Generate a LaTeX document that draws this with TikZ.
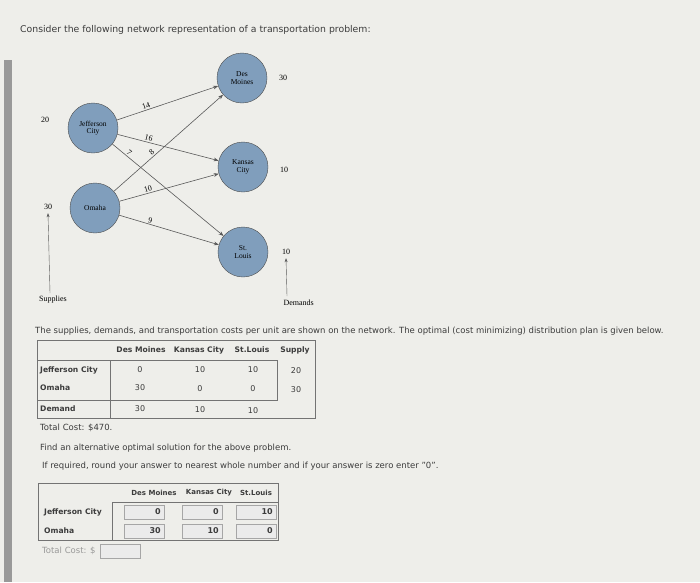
\documentclass[tikz,border=0pt]{standalone}
\usepackage{fontspec}
\setmainfont{DejaVu Sans}
\newfontfamily\serifx{Liberation Serif}
\usetikzlibrary{arrows.meta}
\definecolor{nodeblue}{RGB}{128,158,188}
\definecolor{pagebg}{RGB}{238,238,234}
\definecolor{txt}{RGB}{60,60,60}
\begin{document}
\begin{tikzpicture}[x=1pt,y=-1pt,
  city/.style={circle,draw=black!70,fill=nodeblue,minimum size=50pt,inner sep=0pt,align=center,font=\serifx\fontsize{7.5}{7.5}\selectfont},
  route/.style={draw=black!65,-{Stealth[length=5pt]},line width=0.6pt},
  cost/.style={font=\serifx\fontsize{8}{8}\selectfont,inner sep=1pt},
  amt/.style={font=\serifx\fontsize{8}{8}\selectfont},
  tx/.style={font=\fontsize{8.5}{9}\selectfont,text=txt,anchor=west,inner sep=0pt},
  th/.style={font=\bfseries\fontsize{7.6}{9}\selectfont,text=txt,inner sep=0pt},
  tv/.style={font=\fontsize{8}{9}\selectfont,text=txt,inner sep=0pt},
  frame/.style={draw=black!55,line width=0.6pt},
  inbox/.style={draw=black!35,fill=white!92!black,minimum width=40pt,minimum height=14pt,inner sep=2pt,anchor=east,font=\bfseries\fontsize{8}{9}\selectfont,text=txt,align=right,text width=34pt}]
\useasboundingbox (0,0) rectangle (700,582);
\fill[pagebg] (0,0) rectangle (700,582);
\fill[black!40] (4,60) rectangle (12,582);
\node[tx,font=\fontsize{9.3}{10}\selectfont] (title) at (20,30) {Consider the following network representation of a transportation problem:};
% network
\node[city] (jc) at (93,128) {Jefferson\\City};
\node[city] (om) at (95,208) {Omaha};
\node[city] (dm) at (242,78) {Des\\Moines};
\node[city] (kc) at (243,167) {Kansas\\City};
\node[city] (sl) at (243,252) {St.\\Louis};
\draw[route] (jc) -- node[cost,above,pos=0.3,sloped]{14} (dm);
\draw[route] (jc) -- node[cost,above,pos=0.3,sloped]{16} (kc);
\draw[route] (jc) -- node[cost,above,pos=0.13,sloped]{7} (sl);
\draw[route] (om) -- node[cost,above,pos=0.37,sloped]{8} (dm);
\draw[route] (om) -- node[cost,above,pos=0.3,sloped]{10} (kc);
\draw[route] (om) -- node[cost,above,pos=0.3,sloped]{9} (sl);
\node[amt] (s1) at (45,120) {20};
\node[amt] (s2) at (48,207) {30};
\node[amt] (d1) at (283,78) {30};
\node[amt] (d2) at (284,170) {10};
\node[amt] (d3) at (286,252) {10};
\node[cost,anchor=west] (sup) at (38,300) {Supplies};
\node[cost,anchor=east] (dem) at (315,303) {Demands};
\coordinate (sb) at (50,293);
\coordinate (db) at (287,296);
\draw[black!65,-{Stealth[length=4pt]}] (sb) -- (s2.south);
\draw[black!65,-{Stealth[length=4pt]}] (db) -- (d3.south);
\node[tx] (desc) at (35,331) {The supplies, demands, and transportation costs per unit are shown on the network. The optimal (cost minimizing) distribution plan is given below.};
% table 1
\draw[frame] (37,340) rectangle (315,418);
\draw[frame] (110,360) rectangle (277,400);
\draw[frame] (37,400) -- (110,400);
\draw[frame] (110,360) -- (110,418);
\draw[frame] (37,360) -- (110,360);
\node[th] (h1) at (141,350) {Des Moines};
\node[th] (h2) at (199,350) {Kansas City};
\node[th] (h3) at (252,350) {St.Louis};
\node[th] (h4) at (295,350) {Supply};
\node[th,anchor=west] (r1) at (40,370) {Jefferson City};
\node[th,anchor=west] (r2) at (40,388) {Omaha};
\node[th,anchor=west] (r3) at (40,409) {Demand};
\node[tv] at (140,370) {0}; \node[tv] at (200,370) {10}; \node[tv] at (253,370) {10}; \node[tv] at (296,371) {20};
\node[tv] at (140,388) {30}; \node[tv] at (200,389) {0}; \node[tv] at (253,389) {0}; \node[tv] at (296,390) {30};
\node[tv] at (140,409) {30}; \node[tv] at (200,410) {10}; \node[tv] at (253,411) {10};
\node[tx] (tc) at (40,428) {Total Cost: \$470.};
\node[tx] (find) at (40,448) {Find an alternative optimal solution for the above problem.};
\node[tx] (req) at (42,466) {If required, round your answer to nearest whole number and if your answer is zero enter "0".};
% table 2
\draw[frame] (38,483) rectangle (278,540);
\draw[frame] (112,502) -- (278,502);
\draw[frame] (112,502) -- (112,540);
\node[th,font=\bfseries\fontsize{7}{9}\selectfont] (g1) at (154,493) {Des Moines};
\node[th,font=\bfseries\fontsize{7}{9}\selectfont] (g2) at (209,493) {Kansas City};
\node[th,font=\bfseries\fontsize{7}{9}\selectfont] (g3) at (256,493) {St.Louis};
\node[th,anchor=west] (q1) at (44,512) {Jefferson City};
\node[th,anchor=west] (q2) at (44,531) {Omaha};
\node[inbox] (b11) at (164,512) {0};
\node[inbox] (b12) at (222,512) {0};
\node[inbox] (b13) at (276,512) {10};
\node[inbox] (b21) at (164,531) {30};
\node[inbox] (b22) at (222,531) {10};
\node[inbox] (b23) at (276,531) {0};
\node[tx,text=black!40] (tc2) at (42,551) {Total Cost: \$};
\node[inbox] (tcb) at (140,551) {};
\end{tikzpicture}
\end{document}
